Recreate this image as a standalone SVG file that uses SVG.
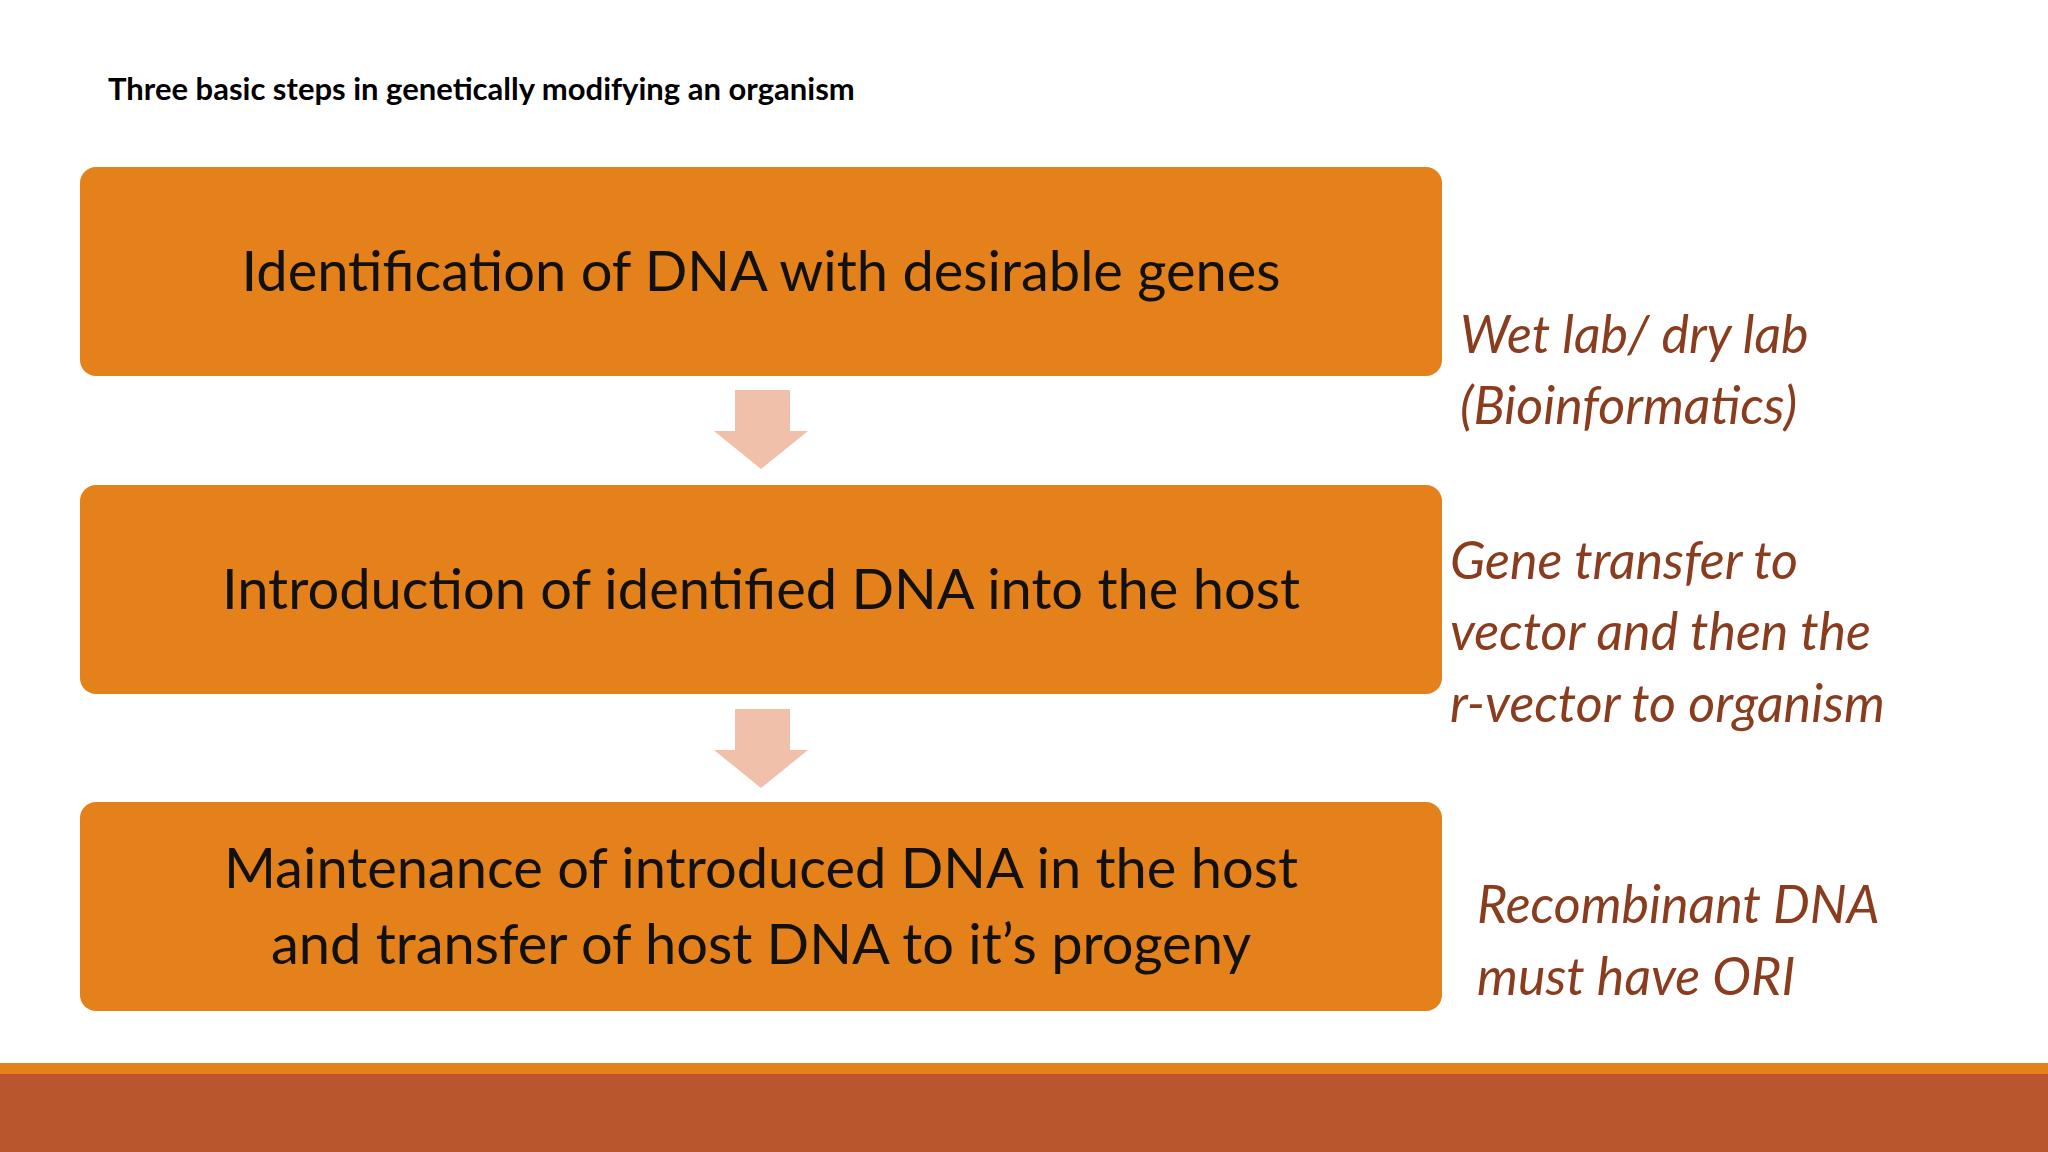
<svg xmlns="http://www.w3.org/2000/svg" width="2048" height="1152" viewBox="0 0 2048 1152">
<style>
.box{fill:#E5811A}
.bt{font-family:Lato,"Open Sans",sans-serif;font-size:56px;fill:#111;text-anchor:middle}
.side{font-family:Lato,"Open Sans",sans-serif;font-style:italic;font-size:52px;fill:#8A3D1E}
.arr{fill:#F0C0AA}
</style>
<rect width="2048" height="1152" fill="#fff"/>
<text x="108" y="100" font-family="Lato,'Open Sans',sans-serif" font-weight="bold" font-size="31" fill="#000">Three basic steps in genetically modifying an organism</text>
<g id="connectors">
<path class="arr" d="M735 390H790V431H808L761 469L714 431H735Z"/>
<path class="arr" d="M735 709H790V750H808L761 788L714 750H735Z"/>
</g>
<g id="step1"><rect class="box" x="80" y="167" width="1362" height="209" rx="16"/><text class="bt" x="761" y="291">Identification of DNA with desirable genes</text></g>
<g id="step2"><rect class="box" x="80" y="485" width="1362" height="209" rx="16"/><text class="bt" x="761" y="609">Introduction of identified DNA into the host</text></g>
<g id="step3"><rect class="box" x="80" y="802" width="1362" height="209" rx="16"/><text class="bt" x="761" y="888">Maintenance of introduced DNA in the host</text><text class="bt" x="761" y="964">and transfer of host DNA to it’s progeny</text></g>
<g id="note1"><text class="side" x="1460" y="353">Wet lab/ dry lab</text><text class="side" x="1460" y="424">(Bioinformatics)</text></g>
<g id="note2"><text class="side" x="1450" y="579">Gene transfer to</text><text class="side" x="1450" y="650">vector and then the</text><text class="side" x="1450" y="722">r-vector to organism</text></g>
<g id="note3"><text class="side" x="1477" y="923">Recombinant DNA</text><text class="side" x="1477" y="995">must have ORI</text></g>
<rect x="0" y="1063" width="2048" height="11" fill="#E5811A"/>
<rect x="0" y="1074" width="2048" height="78" fill="#B9562D"/>
</svg>
